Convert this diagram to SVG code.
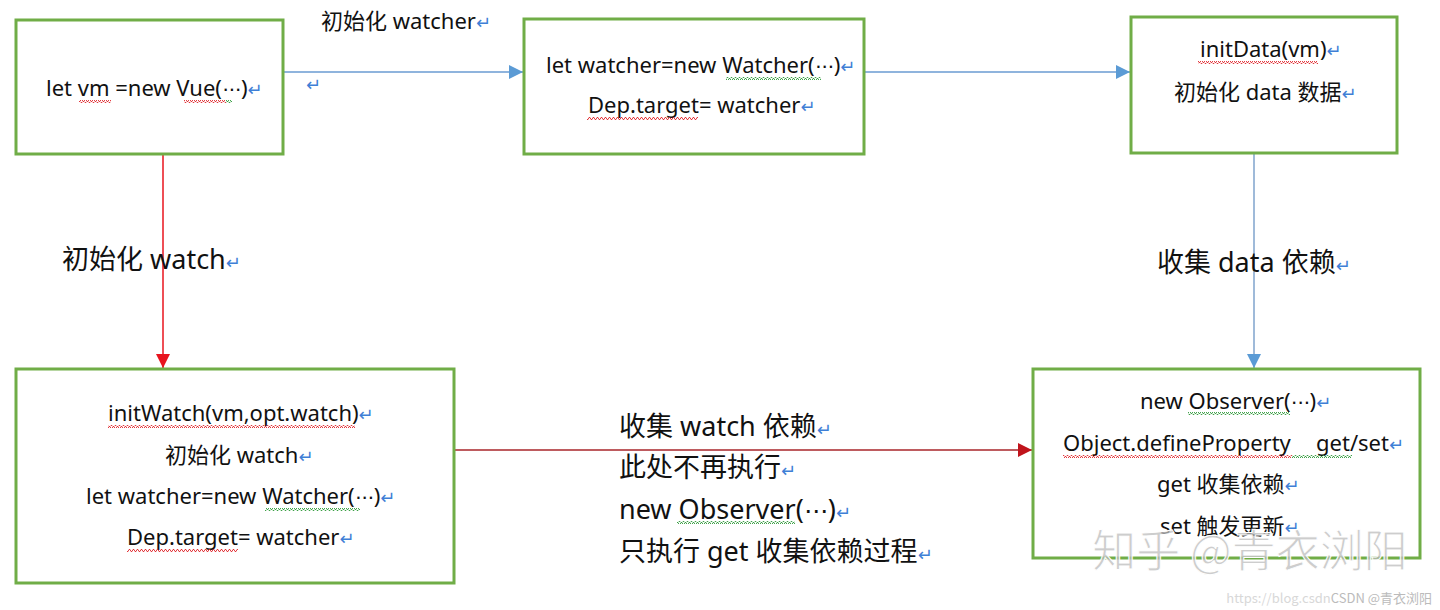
<svg xmlns="http://www.w3.org/2000/svg" width="1440" height="610" viewBox="0 0 1440 610">
<style>
.box{fill:#fff;stroke:#70AD47;stroke-width:3}
.t{font-family:"Noto Sans","Noto Sans CJK SC",sans-serif;font-size:22px;fill:#111}
.l{font-size:27px}
.r{fill:#3F7FD6;font-size:18px;font-family:"DejaVu Sans",sans-serif}
.d{font-family:"Liberation Sans",sans-serif;letter-spacing:-1px}
.wr{fill:url(#wavyR)}
.wg{fill:url(#wavyG)}
</style>
<defs>
<pattern id="wavyR" width="4" height="3" patternUnits="userSpaceOnUse"><path d="M0 2.5 L1 0.5 L2 0.5 L3 2.5 L4 2.5" fill="none" stroke="#E0262B" stroke-width="0.9"/></pattern>
<pattern id="wavyG" width="4" height="3" patternUnits="userSpaceOnUse"><path d="M0 2.5 L1 0.5 L2 0.5 L3 2.5 L4 2.5" fill="none" stroke="#2E9A3A" stroke-width="0.9"/></pattern>
<marker id="ab" viewBox="0 0 10 10" refX="10" refY="5" markerWidth="14" markerHeight="14" markerUnits="userSpaceOnUse" orient="auto"><path d="M0 0 L10 5 L0 10 z" fill="#5B9BD5"/></marker>
<marker id="ar" viewBox="0 0 10 10" refX="10" refY="5" markerWidth="14" markerHeight="14" markerUnits="userSpaceOnUse" orient="auto"><path d="M0 0 L10 5 L0 10 z" fill="#E8141E"/></marker>
<marker id="ad" viewBox="0 0 10 10" refX="10" refY="5" markerWidth="14" markerHeight="14" markerUnits="userSpaceOnUse" orient="auto"><path d="M0 0 L10 5 L0 10 z" fill="#C0141C"/></marker>
</defs>
<rect width="1440" height="610" fill="#fff"/>
<g id="connectors">
<line x1="284" y1="72" x2="523" y2="72" stroke="#6A9BD2" stroke-width="1.5" marker-end="url(#ab)"/>
<line x1="865" y1="72" x2="1130" y2="72" stroke="#6A9BD2" stroke-width="1.5" marker-end="url(#ab)"/>
<line x1="163" y1="155" x2="163" y2="368" stroke="#E8141E" stroke-width="1.5" marker-end="url(#ar)"/>
<line x1="1254" y1="154" x2="1254" y2="368" stroke="#7FA3CC" stroke-width="1.5" marker-end="url(#ab)"/>
<line x1="455" y1="450" x2="1032" y2="450" stroke="#A8242A" stroke-width="1.5" marker-end="url(#ad)"/>
<text class="t" x="321" y="29">初始化 watcher<tspan class="r">↵</tspan></text>
<text class="t" x="306" y="91"><tspan class="r">↵</tspan></text>
<text class="t l" x="62" y="269">初始化 watch<tspan class="r">↵</tspan></text>
<text class="t l" x="1157" y="272">收集 data 依赖<tspan class="r">↵</tspan></text>
<text class="t l" x="619" y="436">收集 watch 依赖<tspan class="r">↵</tspan></text>
<text class="t l" x="619" y="477">此处不再执行<tspan class="r">↵</tspan></text>
<text class="t l" x="619" y="519">new Observer(<tspan class="d">···</tspan>)<tspan class="r">↵</tspan></text>
<text class="t l" x="619" y="561">只执行 get 收集依赖过程<tspan class="r">↵</tspan></text>
<rect class="wg" x="677" y="521" width="118" height="3"/>
</g>
<g id="node-vue">
<rect class="box" x="16" y="20" width="267" height="134"/>
<text class="t" x="46" y="96">let vm =new Vue(<tspan class="d">···</tspan>)<tspan class="r">↵</tspan></text>
<rect class="wr" x="79" y="100" width="32" height="3"/>
<rect class="wr" x="184" y="100" width="42" height="3"/>
<rect class="wg" x="226" y="100" width="6" height="3"/>
</g>
<g id="node-watcher">
<rect class="box" x="524" y="19" width="340" height="135"/>
<text class="t" x="546" y="73">let watcher=new Watcher(<tspan class="d">···</tspan>)<tspan class="r">↵</tspan></text>
<text class="t" x="588" y="113">Dep.target= watcher<tspan class="r">↵</tspan></text>
<rect class="wg" x="726" y="77" width="95" height="3"/>
<rect class="wr" x="587" y="117" width="111" height="3"/>
</g>
<g id="node-initdata">
<rect class="box" x="1131" y="17" width="266" height="136"/>
<text class="t" x="1200" y="57">initData(vm)<tspan class="r">↵</tspan></text>
<text class="t" x="1174" y="100">初始化 data 数据<tspan class="r">↵</tspan></text>
<rect class="wr" x="1198" y="61" width="120" height="3"/>
</g>
<g id="node-initwatch">
<rect class="box" x="16" y="369" width="438" height="214"/>
<text class="t" x="108" y="421">initWatch(vm,opt.watch)<tspan class="r">↵</tspan></text>
<text class="t" x="165" y="463">初始化 watch<tspan class="r">↵</tspan></text>
<text class="t" x="86" y="504">let watcher=new Watcher(<tspan class="d">···</tspan>)<tspan class="r">↵</tspan></text>
<text class="t" x="127" y="545">Dep.target= watcher<tspan class="r">↵</tspan></text>
<rect class="wr" x="108" y="425" width="247" height="3"/>
<rect class="wg" x="265" y="508" width="95" height="3"/>
<rect class="wr" x="127" y="549" width="111" height="3"/>
</g>
<g id="node-observer">
<rect class="box" x="1033" y="369" width="387" height="189"/>
<text class="t" x="1140" y="409">new Observer(<tspan class="d">···</tspan>)<tspan class="r">↵</tspan></text>
<text class="t" x="1063" y="451">Object.defineProperty<tspan x="1316">get/set</tspan><tspan class="r">↵</tspan></text>
<text class="t" x="1157" y="492">get 收集依赖<tspan class="r">↵</tspan></text>
<text class="t" x="1160" y="534">set 触发更新<tspan class="r">↵</tspan></text>
<rect class="wg" x="1188" y="412" width="102" height="3"/>
<rect class="wr" x="1063" y="455" width="229" height="3"/>
<rect class="wg" x="1292" y="455" width="60" height="3"/>
</g>
<g id="watermark">
<text x="1250" y="567" text-anchor="middle" style="font-family:'Noto Sans CJK SC',sans-serif;font-size:44px;fill:#bdbdbd;fill-opacity:0.75;stroke:#fff;stroke-width:1">知乎 @青衣浏阳</text>
<text x="1432" y="603" text-anchor="end" style="font-family:'Noto Sans CJK SC',sans-serif;font-size:13px;fill:#d8d8d8"><tspan>https://blog.csdn</tspan><tspan fill="#bbbbbb">CSDN @青衣浏阳</tspan></text>
</g>
</svg>
